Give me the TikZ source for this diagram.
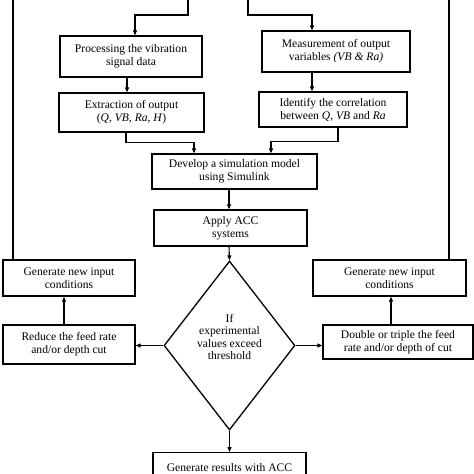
\documentclass[tikz,border=0pt]{standalone}
\usepackage{fontspec}
\setmainfont{Liberation Serif}
\usetikzlibrary{arrows.meta,shapes.geometric}
\begin{document}
\begin{tikzpicture}[x=1pt,y=-1pt,
  box/.style={draw,line width=1.3pt,inner sep=0pt,align=center,font=\fontsize{11.6}{12.8}\selectfont},
  arr/.style={line width=1.1pt,-{Triangle[length=5pt,width=4pt]}},
  ln/.style={line width=1.1pt},
  txt/.style={inner sep=0pt,align=center,font=\fontsize{11.6}{12.4}\selectfont}]
\clip (0,0) rectangle (474,474);
\fill[white] (0,0) rectangle (474,474);
% boxes
\node[box,minimum width=142pt,minimum height=41pt] (proc) at (131,56.5) {Processing the vibration\\signal data};
\node[box,minimum width=148pt,minimum height=41pt] (meas) at (336,51.5) {Measurement of output\\variables \textit{(VB \& Ra)}};
\node[box,minimum width=145pt,minimum height=39pt] (extr) at (131.5,112.5) {Extraction of output\\(\textit{Q}, \textit{VB}, \textit{Ra}, \textit{H})};
\node[box,minimum width=148pt,minimum height=35pt] (ident) at (333,109.5) {Identify the correlation\\between \textit{Q}, \textit{VB} and \textit{Ra}};
\node[box,minimum width=165pt,minimum height=35pt] (sim) at (234.5,171.5) {Develop a simulation model\\using Simulink};
\node[box,minimum width=153pt,minimum height=36pt] (acc) at (230.5,228) {Apply ACC\\systems};
\node[draw,diamond,line width=1.3pt,inner sep=0pt,minimum width=131pt,minimum height=169pt] (dec) at (229.5,345.5) {};
\node[txt] (dectext) at (229.5,337) {If\\experimental\\values exceed\\threshold};
\node[box,minimum width=132pt,minimum height=36pt] (genL) at (69,278) {Generate new input\\conditions};
\node[box,minimum width=153pt,minimum height=36pt] (genR) at (389.5,278) {Generate new input\\conditions};
\node[box,minimum width=132pt,minimum height=39pt] (red) at (69,344.5) {Reduce the feed rate\\and/or depth cut};
\node[box,minimum width=150pt,minimum height=34pt] (dbl) at (398,342) {Double or triple the feed\\rate and/or depth of cut};
\node[box,anchor=north,minimum width=153pt,minimum height=30pt] (res) at (229.5,452) {Generate results with ACC};
% free ends at the top
\coordinate (t1) at (188,0);
\coordinate (t2) at (248,0);
\coordinate (tl) at (13,0);
\coordinate (tr) at (449,0);
% connectors
\draw[arr] (t1) -- ++(0,15) -| ([xshift=4pt]proc.north);
\draw[arr] (t2) -- ++(0,15) -| ([xshift=-24pt]meas.north);
\draw[arr] ([xshift=-4pt]proc.south) -- ([xshift=-4.5pt]extr.north);
\draw[arr] ([xshift=-24pt]meas.south) -- ([xshift=-21pt]ident.north);
\draw[arr] ([xshift=-5.5pt]extr.south) -- ++(0,10) -| ([xshift=-40.5pt]sim.north);
\draw[arr] ([xshift=5pt]ident.south) -- ++(0,14) -| ([xshift=36.5pt]sim.north);
\draw[arr] ([xshift=-5.5pt]sim.south) -- ([xshift=-1.5pt]acc.north);
\draw[arr] ([xshift=-1.5pt]acc.south) -- (dec.north);
\draw[arr] (dec.west) -- (dec.west -| red.east);
\draw[arr] (dec.east) -- (dec.east -| dbl.west);
\draw[arr] (dec.south) -- (res.north);
\draw[arr] ([xshift=-5pt]red.north) -- ([xshift=-5pt]genL.south);
\draw[arr] ([xshift=-7pt]dbl.north) -- ([xshift=1.5pt]genR.south);
\draw[ln] ([xshift=-56pt]genL.north) -- (tl);
\draw[ln] ([xshift=59.5pt]genR.north) -- (tr);
\end{tikzpicture}
\end{document}
